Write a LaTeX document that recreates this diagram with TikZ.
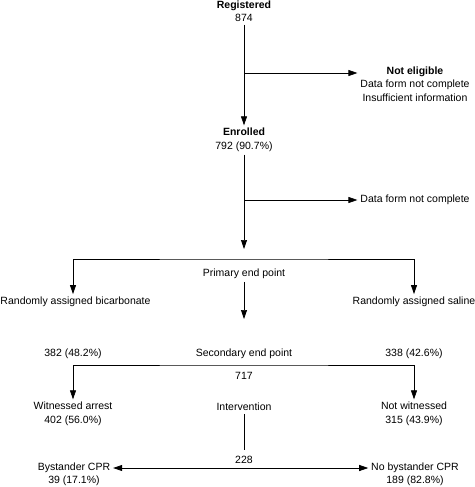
\documentclass[tikz,border=0pt]{standalone}
\usepackage{fontspec}
\setmainfont{Liberation Sans}
\usetikzlibrary{arrows.meta}
\tikzset{
  txt/.style={align=center, inner sep=1pt, outer sep=2pt, font=\fontsize{10.5}{13.5}\selectfont},
  arr/.style={-{Triangle[length=9pt,width=6pt]}},
  dbl/.style={{Triangle[length=9pt,width=6pt]}-{Triangle[length=9pt,width=6pt]}},
}
\begin{document}
\begin{tikzpicture}[x=1pt, y=-1pt, line width=.7pt]
	\useasboundingbox (0,0) rectangle (474,487);
	\node[txt] (reg)    at (244,11)  {\textbf{Registered}\\874};
	\node[txt] (notel)  at (415,84)  {\textbf{Not eligible}\\Data form not complete\\Insufficient information};
	\node[txt] (enr)    at (244,140) {\textbf{Enrolled}\\792 (90.7\%)};
	\node[txt] (dfnc)   at (415,200) {Data form not complete};
	\node[txt] (prim)   at (244,274) {Primary end point};
	\node[txt, anchor=west, inner xsep=0pt] (rab) at (-1.5,302) {Randomly assigned bicarbonate};
	\node[txt] (ras)    at (414,302) {Randomly assigned saline};
	\node[txt] (n382)   at (73,354)  {382 (48.2\%)};
	\node[txt] (sec)    at (244,354) {Secondary end point};
	\node[txt] (n338)   at (414,354) {338 (42.6\%)};
	\node[txt] (n717)   at (244,376) {717};
	\node[txt] (wit)    at (73,414)  {Witnessed arrest\\402 (56.0\%)};
	\node[txt] (intv)   at (244,407) {Intervention};
	\node[txt] (notw)   at (414,414) {Not witnessed\\315 (43.9\%)};
	\node[txt] (n228)   at (244,460) {228};
	\node[txt] (bys)    at (74,468)  {Bystander CPR};
	\node[txt] (bysn)   at (74,481)  {39 (17.1\%)};
	\node[txt] (nobys)  at (415,468) {No bystander CPR};
	\node[txt] (nobysn) at (415,481) {189 (82.8\%)};
	\coordinate (c1)     at (244,73);
	\coordinate (c2)     at (244,200);
	\coordinate (tip1)   at (244,249);
	\coordinate (split1) at (244,259);
	\coordinate (tip2)   at (244,319);
	\coordinate (split2) at (244,365);
	\coordinate (end1)   at (244,450);
	\draw[arr] (reg) -- (enr);
	\draw[arr] (c1) -- (c1 -| notel.west);
	\draw[arr] (enr) -- (tip1);
	\draw[arr] (c2) -- (dfnc);
	\draw[dbl] (rab.north -| wit) |- (split1) -| (ras);
	\draw[arr] (prim) -- (tip2);
	\draw[dbl] (wit) |- (split2) -| (notw);
	\draw      (intv) -- (end1);
	\draw[dbl] (bys) -- (nobys);
\end{tikzpicture}
\end{document}
